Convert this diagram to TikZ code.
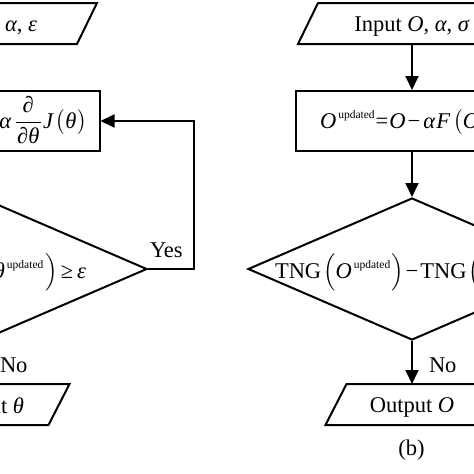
\RequirePackage{fix-cm}
\documentclass[tikz,border=0pt]{standalone}
\usepackage{amsmath}
\usepackage{fontspec}
\setmainfont{Liberation Serif}
\usetikzlibrary{arrows.meta,shapes.geometric}
\newcommand{\updsup}{\kern2pt\raisebox{0.42em}{\fontsize{11.5}{12}\selectfont updated}}
\newcommand{\ita}[1]{\textit{#1}}
\newcommand{\drawpara}[2]{\draw ([xshift=#2]#1.north west) -- ([xshift=#2]#1.north east) -- ([xshift=-#2]#1.south east) -- ([xshift=-#2]#1.south west) -- cycle;}
\begin{document}
\begin{tikzpicture}[x=1pt,y=-1pt,line width=2pt,
  every node/.style={font=\fontsize{22.5}{27}\selectfont, inner sep=0pt},
  captext/.style={text height=15pt, text depth=0pt},
  procbox/.style={draw, rectangle, captext, minimum width=233pt, minimum height=60pt},
  iobox/.style={rectangle, captext, minimum height=39pt},
  decision/.style={draw, diamond, minimum width=328pt, minimum height=142pt},
  flow/.style={-{Triangle[length=14pt,width=13pt]}, line width=2pt}]
\useasboundingbox (0,0) rectangle (474,474);
\clip (0,0) rectangle (474,474);

% ---------- panel (a), mostly outside the crop ----------
\node[iobox, minimum width=206pt] (inL) at (-17,23.5) {};
\drawpara{inL}{10pt}
\node[anchor=base east] (tinL) at (38,31) {Input \ita{θ}, \ita{α}, \ita{ε}};
\node[procbox] (boxL) at (-17,121) {};
\node[anchor=base east] (tboxL) at (88,128) {\ita{θ}\,=\,\ita{θ}\,−\,\ita{α}\kern3pt$\dfrac{\hbox{∂}}{\hbox{\kern1.5pt∂\ita{θ}\kern1.5pt}}$\kern1pt\ita{J}\kern2pt$\bigl($\ita{θ}\kern1pt$\bigr)$};
\node[decision] (dL) at (-17,269) {};
\node[anchor=base east] (tdL) at (87,278) {\ita{J}\kern2pt$\Bigl($\ita{θ}$\Bigr)$\,−\,\ita{J}\kern2pt$\Bigl($\ita{θ}\updsup\kern2pt$\Bigr)$\kern3pt≥\kern4pt\ita{ε}};
\node[iobox, minimum width=150pt] (outL) at (-17,404.5) {};
\drawpara{outL}{10.5pt}
\node[anchor=base east] (toutL) at (25,413) {Output \ita{θ}};

\draw[flow] (inL) -- (boxL);
\draw[flow] (boxL) -- (dL.north);
\draw[flow] (dL.east) -- node[pos=0, anchor=south west, captext, xshift=1pt, yshift=11pt] (yesL) {Yes} ++(46,0) |- (boxL.east);
\draw[flow] (dL.south) -- node[right=16pt, captext, yshift=-2pt] (noL) {No} (outL);

% ---------- panel (b) ----------
\node[iobox, minimum width=206pt] (inR) at (412,23.5) {Input \ita{O}, \ita{α}, \ita{σ}};
\drawpara{inR}{10pt}
\node[anchor=base west] (tboxR) at (319,128) {\ita{O}\updsup\kern1pt=\kern1pt\ita{O}\kern2pt−\kern3pt\ita{α}\kern1pt\ita{F}\kern3pt$\bigl($\ita{O}\kern1pt$\bigr)$};
\node[procbox] (boxR) at (412,121) {};
\node[decision] (dR) at (412,269) {};
\node[anchor=base west] (tdR) at (274,278) {TNG\kern2pt$\Bigl($\ita{O}\updsup\kern1pt$\Bigr)$\kern2pt−\kern2ptTNG\kern2pt$\Bigl($\ita{O}\kern1pt$\Bigr)$\kern3pt≥\kern4pt\ita{ε}};
\node[iobox, minimum width=150pt] (outR) at (412,404.5) {Output \ita{O}};
\drawpara{outR}{10.5pt}
\node[anchor=base] (capb) at (411.5,455) {(b)};

\draw[flow] (inR) -- (boxR);
\draw[flow] (boxR) -- (dR.north);
\draw[flow] (dR.south) -- node[right=16pt, captext, yshift=-2pt] (noR) {No} (outR);
\end{tikzpicture}
\end{document}
